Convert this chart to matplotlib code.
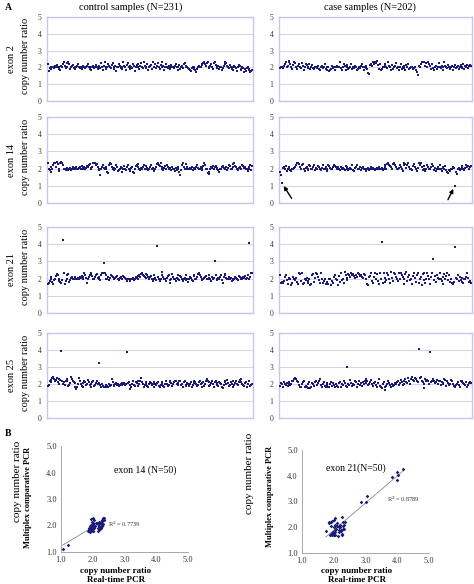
import numpy as np
import matplotlib
matplotlib.use('Agg')
import matplotlib.pyplot as plt

plt.rcParams['font.family'] = ['Liberation Serif', 'DejaVu Serif']

# ---- panel A: copy number ratio per sample ----
exons = ['exon 2', 'exon 14', 'exon 21', 'exon 25']
col_titles = ['control samples (N=231)', 'case samples (N=202)']

c2 = [2.2,1.8,1.95,2.0,1.9,2.05,2.0,1.95,2.1,2.0, 2.15,2.05,1.9,2.0,1.85,2.1,2.0,2.2,2.3,2.1,
      1.95,2.05,2.25,2.3,2.2,1.9,2.0,2.1,2.15,1.95, 2.0,1.9,2.05,2.1,2.2,2.0,1.95,2.05,1.9,2.0,
      2.1,2.05,1.95,2.0,2.1,2.2,2.0,1.9,1.85,2.05, 2.0,2.1,1.95,2.0,2.15,2.05,1.9,2.0,2.1,1.95,
      2.25,2.0,1.85,2.1,2.3,2.05,1.9,2.0,2.2,2.1, 2.0,1.95,2.15,2.25,1.9,2.0,2.1,1.8,2.05,2.0,
      2.2,2.1,1.95,1.9,2.05,2.3,2.1,2.0,1.85,2.15, 2.25,2.0,1.9,2.1,2.05,1.95,2.2,2.1,1.8,2.0,
      2.15,2.2,2.05,1.9,2.1,2.25,2.0,1.95,2.3,2.1, 1.95,2.05,2.2,1.85,2.0,2.1,2.15,1.9,2.35,2.05,
      2.0,2.2,1.95,2.1,2.25,2.0,1.9,2.15,2.05,2.3, 2.1,1.85,2.0,2.2,2.05,1.95,2.1,2.0,1.9,2.15,
      2.0,2.05,1.95,2.1,2.2,2.0,1.85,2.05,2.15,1.9, 2.0,2.1,1.95,2.2,2.25,2.05,2.1,2.0,1.95,1.9,
      1.85,1.8,1.95,2.0,2.05,1.9,1.85,1.75,1.9,2.0, 2.1,2.0,2.05,2.15,2.2,2.25,2.3,2.2,2.1,2.25,
      2.3,2.0,1.95,2.1,2.2,2.0,1.9,2.25,2.3,2.15, 2.0,1.95,2.1,1.9,2.0,2.05,1.85,1.95,2.1,2.2,
      2.3,2.25,2.1,2.0,1.95,2.15,2.05,1.9,1.85,2.0, 2.1,2.05,1.95,1.8,2.0,2.15,2.1,1.9,1.85,2.0,
      1.95,1.75,1.9,1.8,1.95,2.0,1.85,1.9,1.75,1.8,1.85]

c14 = [2.3,2.0,1.9,1.8,2.1,1.95,2.2,2.35,2.3,2.1, 2.4,2.25,2.0,1.85,2.35,2.4,2.3,2.2,2.0,1.95,
       1.9,2.05,1.95,1.9,2.0,2.05,1.9,2.0,2.1,1.95, 2.0,2.05,2.1,2.0,1.95,2.05,2.1,2.0,2.15,2.05,
       1.95,2.1,2.0,2.05,2.15,2.1,2.2,2.25,2.05,2.0, 2.1,2.3,2.35,2.3,2.2,2.25,2.1,2.0,1.9,1.6,
       2.0,2.1,2.2,2.05,1.95,2.0,2.1,1.8,1.75,2.2, 2.3,2.25,2.1,2.0,1.9,2.05,1.95,2.2,2.1,1.85,
       1.9,2.0,2.1,2.05,1.8,1.95,2.15,2.0,1.9,2.1, 2.2,2.0,1.95,1.85,2.05,2.1,1.8,1.75,2.0,2.15,
       2.2,2.25,2.1,2.0,1.9,2.05,1.95,2.1,2.2,2.0, 1.95,2.15,2.05,1.9,2.0,2.1,2.2,1.95,2.05,2.0,
       1.85,1.95,2.1,2.25,2.35,2.2,2.15,2.3,2.1,2.0, 1.9,2.05,2.15,2.0,2.2,2.1,1.95,2.05,2.0,1.9,
       2.1,2.0,1.95,1.85,2.05,1.9,2.0,2.1,1.8,1.65, 1.9,2.2,2.35,2.1,2.0,1.95,2.25,2.1,2.0,1.95,
       2.05,2.0,2.1,1.9,2.0,2.05,1.95,2.1,2.2,2.05, 2.0,1.95,2.1,1.9,2.05,2.15,2.3,2.2,2.0,1.95,
       1.75,1.7,1.8,2.0,2.1,2.05,2.15,2.0,2.1,2.15, 1.95,2.05,1.9,1.8,1.95,2.0,2.1,2.15,2.05,1.95,
       2.0,2.1,1.9,2.05,2.2,2.15,2.0,1.95,2.1,2.25, 2.3,2.15,2.1,2.0,1.9,2.05,2.1,1.95,2.0,2.2,
       2.15,2.05,2.1,1.95,2.0,1.85,2.0,2.1,2.2,1.9,2.15]

c21 = [1.7,1.75,1.85,2.0,2.1,1.8,1.7,1.9,2.0,2.15, 2.25,2.2,1.95,1.85,1.8,1.75,1.9,4.25,2.3,1.7,
       1.85,2.0,2.2,2.25,1.8,1.9,2.05,2.1,2.0,1.95, 2.05,2.1,2.0,1.95,2.05,2.0,2.1,2.05,2.15,2.0,
       2.1,2.3,2.2,2.05,1.75,2.0,2.1,2.2,2.25,2.3, 2.15,2.0,1.95,2.1,2.2,2.25,2.05,2.0,2.1,1.9,
       2.2,2.3,2.35,2.88,2.3,2.2,2.0,1.95,2.1,1.9, 2.05,2.2,2.15,2.1,2.0,1.95,2.05,2.1,2.15,2.0,
       1.9,2.05,2.1,2.0,1.95,2.15,2.1,2.05,2.0,1.85, 1.95,2.0,1.9,1.85,1.95,2.0,2.05,1.9,2.0,2.1,
       2.05,1.95,2.15,2.2,2.1,2.25,2.3,2.2,2.15,2.1, 2.05,2.25,2.2,2.1,2.0,2.1,2.15,1.95,1.85,2.0,
       2.2,2.05,1.9,3.88,2.1,2.0,1.85,1.95,2.2,2.4, 2.1,2.0,1.95,1.85,2.05,2.15,2.2,1.9,1.75,2.0,
       2.25,2.1,1.95,2.0,1.85,2.05,2.2,2.0,1.9,2.15, 2.1,1.95,1.85,2.0,2.05,1.9,2.2,1.95,1.8,2.0,
       2.1,2.05,1.9,1.85,2.15,2.2,2.0,1.95,2.1,2.25, 2.3,2.2,2.1,2.0,1.9,1.95,2.05,2.1,2.15,2.0,
       1.95,2.05,2.2,2.0,1.85,2.1,1.95,2.05,3.0,2.2, 1.9,2.0,2.05,1.95,2.1,2.2,1.9,1.75,2.1,2.25,
       2.2,2.05,1.95,2.0,2.1,1.95,2.05,1.85,1.9,2.0, 1.95,2.1,2.05,2.0,1.9,2.15,2.1,2.0,2.05,1.95,
       2.1,2.05,2.15,2.0,2.05,2.2,4.06,2.0,2.1,2.3,2.35]

c25 = [1.9,1.95,2.2,2.25,2.1,2.35,2.4,2.3,2.2,2.25, 2.35,2.1,2.0,2.3,2.25,3.94,2.2,2.0,2.1,1.95,
       2.15,2.3,2.2,1.9,1.95,2.05,2.4,2.3,2.2,2.1, 2.05,1.85,1.7,1.8,2.0,2.35,2.2,2.0,1.9,1.85,
       2.05,2.2,2.1,1.95,2.0,2.25,2.1,1.95,1.85,2.0, 2.1,2.15,1.9,1.95,2.05,2.2,2.0,3.24,2.05,1.95,
       1.85,2.0,1.9,1.85,1.8,1.85,1.95,1.9,1.85,2.0, 1.9,1.95,2.3,2.1,1.9,1.95,2.0,2.05,1.95,2.0,
       1.9,1.95,2.0,2.05,1.95,2.0,2.05,1.95,2.0,3.88, 2.05,2.1,1.95,1.7,1.8,2.0,2.2,1.95,1.9,2.1,
       2.05,2.15,1.9,2.0,2.2,2.35,2.1,2.0,1.85,1.95, 2.1,2.0,1.9,1.8,2.0,2.1,2.05,1.95,2.0,1.85,
       2.1,2.0,1.95,2.05,2.1,1.9,1.85,1.95,2.0,2.1, 1.9,1.85,2.0,2.15,2.0,1.9,1.95,2.1,2.2,2.05,
       1.9,2.0,2.1,2.15,2.2,2.0,1.95,2.05,2.15,2.2, 1.95,2.0,1.85,2.1,2.2,1.9,1.95,2.05,2.0,1.9,
       2.0,2.1,1.85,1.95,2.05,2.2,2.1,2.0,1.9,1.95, 2.1,2.15,2.0,1.85,2.05,2.1,1.9,2.0,2.2,2.3,
       2.2,2.1,1.9,1.95,2.05,2.15,2.0,1.8,2.1,2.2, 2.05,1.95,1.9,2.1,2.05,2.0,1.85,1.75,1.95,2.2,
       2.1,2.0,2.25,2.05,1.9,1.95,2.1,2.0,2.15,1.85, 1.95,2.05,2.2,2.0,1.95,2.1,2.25,2.3,2.1,2.0,
       1.95,1.9,2.05,2.1,1.85,2.0,2.2,2.15,1.9,1.95,2.0]

k2 = [1.95,2.0,2.05,1.95,2.1,2.2,2.35,2.0,2.1,2.3, 2.4,2.2,2.0,1.9,2.15,2.3,2.25,2.05,1.9,2.1,
      2.2,2.0,1.95,2.25,2.1,1.85,2.0,2.2,2.15,1.95, 2.05,2.2,1.9,2.0,2.15,1.95,1.9,2.0,2.05,1.95,
      2.1,1.9,1.85,2.0,2.1,1.95,2.0,2.2,1.9,1.85, 2.0,2.05,1.8,1.85,1.9,2.1,1.95,2.0,1.85,2.0,
      2.1,2.0,2.05,2.3,1.95,1.85,2.0,2.2,2.1,1.85, 2.0,2.15,1.9,1.95,2.05,2.2,1.9,2.0,1.95,2.1,
      2.0,1.85,1.9,2.05,1.95,2.1,2.2,2.0,1.85,2.0, 2.1,1.95,1.9,1.65,1.6,2.15,2.2,2.1,2.3,2.2,
      2.35,2.25,2.4,2.15,1.9,2.2,1.85,1.9,2.05,2.0, 2.1,2.2,2.05,1.95,2.3,2.1,2.0,1.85,2.15,1.9,
      2.0,2.1,2.25,1.95,2.0,1.85,2.05,2.2,1.9,2.0, 2.1,1.95,1.85,2.15,2.0,2.2,1.9,1.95,2.05,2.0,
      1.9,1.95,2.0,1.85,1.7,1.55,2.1,2.0,2.2,2.35, 2.3,2.35,2.3,2.1,2.25,2.0,2.3,2.2,2.1,1.9,
      2.2,1.95,1.85,2.0,2.1,1.9,2.05,2.25,2.0,1.95, 2.1,1.85,2.0,2.3,2.1,2.0,1.95,2.15,2.05,1.9,
      2.0,2.1,1.85,2.05,2.15,1.95,2.0,2.1,1.9,2.05, 2.15,2.0,1.95,2.2,1.9,2.1,2.0,2.15,1.95,2.1,
      2.15,2.1]

k14 = [1.8,1.63,1.16,2.05,2.1,1.95,2.15,1.85,1.95,2.1, 2.0,1.9,1.85,2.0,1.95,2.05,2.1,2.2,2.35,2.3,
       2.25,2.1,2.0,2.2,2.25,1.95,1.85,2.05,2.1,1.9, 2.0,2.2,2.15,2.0,1.95,2.1,2.2,1.9,2.05,2.0,
       2.15,2.1,2.0,1.9,2.05,2.2,2.0,1.95,2.1,1.85, 2.0,2.2,2.15,2.05,2.0,1.95,2.1,2.2,2.15,2.1,
       2.0,2.1,1.95,1.9,2.1,2.0,2.05,1.95,1.9,2.15, 2.0,2.1,1.9,1.95,2.05,2.0,2.2,1.9,1.85,2.05,
       2.1,2.2,1.95,2.0,2.1,1.9,2.05,2.1,1.95,2.0, 1.85,2.0,1.95,2.05,1.9,2.0,2.1,1.95,2.05,2.0,
       1.9,1.95,2.05,2.0,2.1,1.95,2.0,2.05,1.9,2.0, 2.1,2.2,2.0,2.25,2.3,2.2,2.15,2.1,2.0,2.25,
       2.3,2.2,2.1,2.0,1.95,2.05,2.2,2.1,2.0,1.85, 2.3,2.2,2.25,2.05,2.2,2.3,2.1,1.95,2.0,1.9,
       2.15,2.25,2.1,2.0,1.85,2.05,2.3,2.2,2.35,2.1, 1.9,2.0,2.15,1.85,1.95,2.2,2.1,2.0,1.95,2.1,
       2.25,2.15,1.9,2.05,1.85,2.0,2.1,1.95,2.2,2.0, 1.85,2.1,2.05,1.95,2.15,1.9,1.8,1.75,1.9,1.85,
       2.0,1.95,2.1,2.05,1.0,1.8,1.7,1.95,2.05,1.9, 2.0,2.15,2.1,2.0,1.9,2.05,2.2,2.1,2.15,2.0,
       2.1,2.15]

k21 = [2.2,1.75,1.8,1.75,1.85,2.1,2.2,1.9,1.7,2.05, 2.0,1.95,1.65,1.75,2.1,2.0,1.9,2.05,1.8,1.7,
       2.3,2.25,1.85,2.3,1.7,1.75,2.0,1.9,2.05,1.75, 1.85,1.95,1.65,1.7,2.2,2.25,1.8,2.05,2.3,2.25,
       2.1,1.9,1.75,2.35,2.0,1.75,1.85,1.95,1.7,1.8, 1.75,1.7,1.95,2.0,1.65,1.85,1.75,2.1,2.2,2.0,
       1.9,1.6,2.15,1.8,2.3,1.9,2.0,1.75,2.4,2.2, 1.9,2.05,2.25,2.2,2.1,2.3,2.2,2.25,2.15,2.05,
       2.2,2.1,2.3,2.25,2.15,2.2,2.1,2.05,2.25,2.2, 2.0,1.95,1.7,1.65,2.1,2.15,2.3,1.85,1.75,2.1,
       2.35,1.95,2.25,1.85,1.7,2.3,2.0,4.13,1.75,2.35, 2.05,1.8,1.9,2.3,2.2,2.0,1.75,2.4,2.05,1.85,
       2.35,2.25,2.1,2.0,1.85,2.3,1.95,2.35,2.2,2.1, 1.7,2.0,2.25,2.4,1.85,2.1,2.2,1.9,2.0,1.7,
       2.15,2.35,2.05,1.8,2.2,2.3,1.75,1.95,2.1,1.65, 2.25,1.9,2.3,1.75,2.0,2.35,2.15,1.95,1.7,2.1,
       2.3,3.14,1.9,2.15,1.8,2.2,2.05,1.95,2.3,2.0, 1.85,2.1,1.7,2.25,2.0,2.15,2.35,1.9,2.2,1.8,
       1.95,1.75,1.7,1.8,3.84,2.05,2.0,2.2,1.85,2.1, 1.9,1.8,2.05,1.75,2.0,1.95,2.1,2.3,2.05,1.8,
       1.85,1.75]

k25 = [1.9,2.05,2.0,1.85,2.1,2.0,1.95,2.05,1.9,2.0, 2.1,1.95,2.0,2.15,2.2,2.3,2.35,2.3,2.2,2.1,
       1.95,1.85,1.8,2.0,2.1,2.15,1.85,1.9,1.8,1.75, 2.0,2.1,1.75,1.85,2.05,2.0,1.9,2.1,2.15,1.95,
       2.05,2.2,2.3,1.95,1.85,2.0,2.1,1.9,1.85,1.95, 2.05,1.85,1.8,2.0,2.1,1.9,2.05,1.95,1.8,2.0,
       1.9,1.85,2.05,2.1,1.8,2.0,1.95,2.2,2.05,1.9, 1.85,3.0,2.0,1.95,2.25,2.05,1.9,2.0,1.95,2.2,
       2.1,1.85,2.0,2.2,1.95,2.05,1.9,2.1,2.0,2.15, 2.05,2.3,2.15,1.95,2.0,2.1,2.25,2.0,1.9,2.05,
       2.1,1.95,1.85,2.05,2.3,1.9,1.85,1.75,2.0,2.1, 1.8,1.65,1.9,2.0,2.15,2.05,1.95,1.85,2.0,1.9,
       1.95,2.05,2.0,2.1,2.2,1.95,2.05,2.25,2.1,1.95, 2.0,2.2,2.3,2.1,2.05,2.35,2.2,2.0,2.3,2.4,
       2.25,2.15,2.35,2.3,2.2,2.1,4.05,2.35,2.4,2.2, 2.1,1.75,2.0,2.3,2.2,2.25,2.15,2.0,3.88,2.1,
       2.2,2.3,2.15,2.05,2.1,2.25,2.0,2.15,2.2,1.95, 2.1,2.05,2.0,2.3,2.25,1.9,2.2,2.05,1.95,2.0,
       2.25,2.15,2.0,1.9,1.85,1.95,2.0,2.1,1.95,1.85, 2.15,2.2,2.1,2.05,2.0,1.95,2.1,1.85,1.95,2.05,
       2.1,2.05]

# ---- panel B: real-time PCR vs multiplex comparative PCR ----
bx14 = [1.05,1.23, 1.85,1.88,1.9,1.92,1.93,1.95,1.95,1.97,1.98,2.0, 2.0,2.02,2.03,2.05,1.9,1.95,2.0,2.05,1.88,1.93,
        1.98,2.02,2.15,2.17,2.2,2.2,2.22,2.25,2.25,2.27, 2.3,2.3,2.32,2.33,2.35,2.18,2.22,2.28,2.3,2.35,
        2.12,2.2,2.25,1.97,2.0,2.08,2.1,2.32]
by14 = [1.12,1.27, 1.78,1.85,1.75,1.9,1.82,1.95,1.88,2.0,1.85,2.05, 1.95,2.1,1.9,2.2,2.0,2.25,2.27,1.98,1.92,2.02,
        2.15,1.8,1.9,2.05,1.85,2.0,2.1,1.95,2.15,2.05, 2.2,2.1,2.25,2.3,2.28,1.8,1.88,2.0,2.18,2.22,
        2.08,2.12,1.92,1.95,1.78,2.0,2.1,2.05]
bx21 = [4.18,4.0,4.02,3.84,3.98,3.05,3.03,2.86,
        1.75,1.85,1.88,1.9,1.92,1.95,1.95,1.97,1.98,2.0, 2.0,2.02,2.03,2.05,2.05,1.93,1.96,2.0,2.04,2.08,
        2.1,2.12,2.15,2.18,2.2,2.22,2.25,2.25,2.28,2.3, 2.3,2.32,2.35,2.2,2.15,2.1,1.9,1.85,2.27,2.33,
        2.05,2.23]
by21 = [4.27,4.13,4.04,3.95,3.85,3.23,3.0,2.97,
        1.85,2.15,1.7,2.2,1.75,1.7,2.25,1.72,1.8,1.68, 2.3,1.75,1.9,2.35,1.7,1.73,1.78,2.0,1.82,1.95,
        2.05,1.65,2.0,1.8,2.1,1.9,2.4,1.75,2.2,2.05, 1.95,2.1,2.2,2.0,1.88,2.15,2.05,2.2,1.7,1.95,
        2.1,1.85]
b_titles = ['exon 14 (N=50)', 'exon 21(N=50)']
b_r2 = ['R$^2$ = 0.7739', 'R$^2$ = 0.8789']

W, H = 474, 584
fig = plt.figure(figsize=(W / 100, H / 100), dpi=100)


def px_axes(x0, y0, x1, y1):
    # pixel box (top-left origin) -> figure fraction axes
    return fig.add_axes([x0 / W, 1 - y1 / H, (x1 - x0) / W, (y1 - y0) / H])


def ftext(x, y, s, **kw):
    fig.text(x / W, 1 - y / H, s, **kw)


navy = '#1c1c78'
rows = [(17, 101), (117, 203), (227, 313), (333, 418)]
cols = [(47, 253), (279, 472)]
series = [[c2, k2], [c14, k14], [c21, k21], [c25, k25]]

ax_case14 = None
for r, (y0, y1) in enumerate(rows):
    for c, (x0, x1) in enumerate(cols):
        vals = series[r][c]
        n = len(vals)
        ax = px_axes(x0, y0, x1, y1)
        ax.scatter(np.arange(1, n + 1), vals, s=3.2, marker='s', color=navy, linewidths=0, zorder=3)
        ax.set_xlim(0, n + 1)
        ax.set_ylim(0, 5)
        ax.set_yticks(range(6))
        ax.set_xticks([])
        ax.tick_params(axis='y', length=0, labelsize=5.5, colors='#3a3a3a', pad=4)
        ax.grid(axis='y', color='#d8d4e2', lw=0.8)
        ax.set_axisbelow(True)
        for sp in ax.spines.values():
            sp.set_color('#d0c2ee')
            sp.set_linewidth(1.0)
        if r == 1 and c == 1:
            ax_case14 = ax
    yc = (y0 + y1) / 2
    ftext(12, yc, exons[r], rotation=90, ha='center', va='center', fontsize=7.5)
    ftext(26, yc - 3, 'copy number ratio', rotation=90, ha='center', va='center', fontsize=7.5)

ftext(131, 7, col_titles[0], ha='center', va='center', fontsize=7.5)
ftext(370, 7, col_titles[1], ha='center', va='center', fontsize=7.5)
ftext(5, 7, 'A', ha='left', va='center', fontsize=7, fontweight='bold')
ftext(5, 433, 'B', ha='left', va='center', fontsize=7, fontweight='bold')

# arrows pointing at the two low outliers (case, exon 14)
low = [i for i, v in enumerate(k14) if v < 1.3]
for i, off in zip(low, [(7, -11), (-5, -10)]):
    ax_case14.annotate('', xy=(i + 1, k14[i]), xytext=off, textcoords='offset points',
                       arrowprops=dict(arrowstyle='-|>', color='black', lw=1.0,
                                       mutation_scale=5.5, shrinkA=0, shrinkB=2.5))

# ---- panel B ----
b_boxes = [(61, 446, 188, 552), (302, 450, 429, 553)]
b_data = [(bx14, by14), (bx21, by21)]
b_title_pos = [(0.42, 0.77), (0.19, 0.82)]
b_r2_pos = [(0.37, 0.26), (0.67, 0.52)]
ticks = [1, 2, 3, 4, 5]
for j, box in enumerate(b_boxes):
    ax = px_axes(*box)
    x = np.array(b_data[j][0])
    y = np.array(b_data[j][1])
    ax.scatter(x, y, s=3.5, marker='D', color=navy, linewidths=0, zorder=3)
    slope, icpt = np.polyfit(x, y, 1)
    xs = np.array([x.min(), x.max()])
    ax.plot(xs, slope * xs + icpt, color='#8a8a8a', lw=0.6, zorder=2)
    ax.set_xlim(1, 5)
    ax.set_ylim(1, 5)
    ax.set_xticks(ticks)
    ax.set_yticks(ticks)
    ax.set_xticklabels(['%.1f' % t for t in ticks])
    ax.set_yticklabels(['%.1f' % t for t in ticks])
    ax.tick_params(length=0, labelsize=6, colors='#333333', pad=3)
    for s in ['top', 'right']:
        ax.spines[s].set_visible(False)
    for s in ['left', 'bottom']:
        ax.spines[s].set_color('#9a9a9a')
        ax.spines[s].set_linewidth(0.6)
    ax.text(*b_title_pos[j], b_titles[j], transform=ax.transAxes, fontsize=7, va='center', ha='left')
    ax.text(*b_r2_pos[j], b_r2[j], transform=ax.transAxes, fontsize=4.5, va='center', ha='left',
            color='#333333')

# panel B axis labels
for xc in (116, 357):
    ftext(xc, 571, 'copy number ratio', ha='center', va='center', fontsize=6.5, fontweight='bold')
    ftext(xc, 580, 'Real-time PCR', ha='center', va='center', fontsize=6.5, fontweight='bold')
ftext(18, 481, 'copy number ratio', rotation=90, ha='center', va='center', fontsize=8)
ftext(28, 497, 'Multiplex comparative PCR', rotation=90, ha='center', va='center', fontsize=6,
      fontweight='bold')
ftext(249, 473, 'copy number ratio', rotation=90, ha='center', va='center', fontsize=8)
ftext(270, 496, 'Multiplex comparative PCR', rotation=90, ha='center', va='center', fontsize=6,
      fontweight='bold')

fig.savefig('out.png', dpi=100)
